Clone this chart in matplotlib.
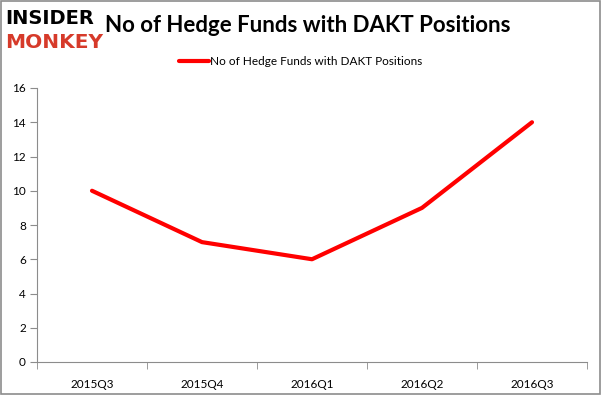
import matplotlib.pyplot as plt
import matplotlib.patches as patches

plt.rcParams['font.family'] = ['Lato', 'DejaVu Sans']

quarters = ['2015Q3', '2015Q4', '2016Q1', '2016Q2', '2016Q3']
funds = [10, 7, 6, 9, 14]
yticks = list(range(0, 17, 2))
series_name = 'No of Hedge Funds with DAKT Positions'

fig = plt.figure(figsize=(6.01, 3.95), dpi=100)
fig.patch.set_facecolor('white')
fig.patches.append(patches.Rectangle((0.001, 0.002), 0.997, 0.995, transform=fig.transFigure,
                                     fill=False, edgecolor='#8c8c8c', linewidth=1.2))

ax = fig.add_axes([37/601, 1-362/395, 550/601, 274/395])
x = range(len(quarters))
line, = ax.plot(x, funds, color='#ff0000', linewidth=3, solid_capstyle='round')
ax.set_xlim(-0.5, len(quarters)-0.5)
ax.set_ylim(0, 16)
ax.set_yticks(yticks)
ax.set_xticks(x)
ax.set_xticklabels(quarters)
ax.set_xticks([i - 0.5 for i in range(len(quarters)+1)], minor=True)
ax.tick_params(axis='x', which='major', length=0, pad=12, labelsize=8.5)
ax.tick_params(axis='x', which='minor', length=5, color='#8c8c8c')
ax.tick_params(axis='y', length=5, color='#8c8c8c', labelsize=8.5, direction='out', pad=3)
for s in ['top', 'right']:
    ax.spines[s].set_visible(False)
for s in ['left', 'bottom']:
    ax.spines[s].set_color('#8c8c8c')

fig.text(0.175, 0.935, series_name, fontsize=16, fontweight='bold',
         va='center', ha='left')
fig.text(0.009, 0.952, 'INSIDER', fontsize=14, fontweight='heavy', family='DejaVu Sans',
         color='black', va='center', ha='left')
fig.text(0.009, 0.893, 'MONKEY', fontsize=14.5, fontweight='heavy', family='DejaVu Sans',
         color='#d63a2a', va='center', ha='left')

fig.legend([line], [series_name], loc='center', bbox_to_anchor=(0.5, 0.845), frameon=False,
           fontsize=8.5, handlelength=2.5, handletextpad=0.1)

fig.savefig('out.png', dpi=100)
